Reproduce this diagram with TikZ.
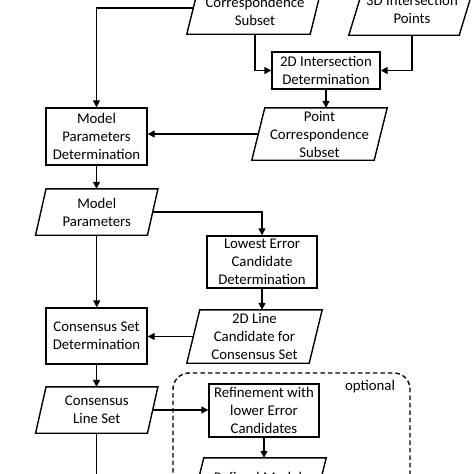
\documentclass[tikz,border=0pt]{standalone}
\usepackage{fontspec}
\setmainfont{Carlito}
\usetikzlibrary{arrows.meta}
\tikzset{
  lw/.style={line width=1.4pt},
  txt/.style={font=\fontsize{14.8}{18}\selectfont, align=center, inner sep=0pt},
  procbox/.style={txt, draw, lw, rectangle},
  databox/.style={txt, rectangle},
  conn/.style={lw, -{Triangle[length=7pt,width=7pt]}},
  plainconn/.style={lw},
}
\newcommand\drawpara[2]{\draw[lw] ([xshift=-#2pt]#1.south west) -- ([xshift=#2pt]#1.north west) -- ([xshift=#2pt]#1.north east) -- ([xshift=-#2pt]#1.south east) -- cycle;}
\begin{document}
\begin{tikzpicture}[x=1pt,y=-1pt]
\useasboundingbox (0,0) rectangle (474,474);
\clip (0,0) rectangle (474,474);
\fill[white] (0,0) rectangle (474,474);

% data (parallelogram) nodes
\node[databox, minimum width=123pt, minimum height=52pt] (lcs) at (255,8) {\mbox{}\\Correspondence\\Subset};
\drawpara{lcs}{6.5}
\node[databox, minimum width=110pt, minimum height=52pt] (pts) at (412,9) {3D Intersection\\Points};
\drawpara{pts}{8}
\node[databox, minimum width=122pt, minimum height=52pt] (pcs) at (319.5,134) {Point\\Correspondence\\Subset};
\drawpara{pcs}{6.5}
\node[databox, minimum width=111.5pt, minimum height=46pt] (mp) at (96.75,212) {Model\\Parameters};
\drawpara{mp}{5.25}
\node[databox, minimum width=122pt, minimum height=53pt] (dlc) at (254.5,336.5) {2D Line\\Candidate for\\Consensus Set};
\drawpara{dlc}{6.5}
\node[databox, minimum width=111.5pt, minimum height=46pt] (cls) at (96.75,410) {Consensus\\Line Set};
\drawpara{cls}{5.25}
\node[databox, minimum width=122pt, minimum height=56pt] (rm) at (258,486) {Refined Model\\\mbox{}};
\drawpara{rm}{7}

% process boxes
\node[procbox, minimum width=108pt, minimum height=37pt] (idet) at (326,70.5) {2D Intersection\\Determination};
\node[procbox, minimum width=101pt, minimum height=57pt] (mpd) at (96.5,136.5) {Model\\Parameters\\Determination};
\node[procbox, minimum width=110pt, minimum height=52pt] (led) at (262,262) {Lowest Error\\Candidate\\Determination};
\node[procbox, minimum width=101pt, minimum height=56pt] (csd) at (96.5,336) {Consensus Set\\Determination};
\node[procbox, minimum width=110pt, minimum height=53pt] (ref) at (264,410.5) {Refinement with\\lower Error\\Candidates};

% optional region
\draw[lw, dashed, dash pattern=on 4.5pt off 3pt, rounded corners=16pt] (173,540) -- (173,373) -- (410,373) -- (410,540);
\node[txt] (opt) at (370,387) {optional};

% connectors
\coordinate (bottomend) at (96.75,500);
\draw[conn] (lcs.west) -| (mpd.north);
\draw[conn] (lcs.south) |- (idet.west);
\draw[conn] (pts.south) |- (idet.east);
\draw[conn] (idet.south) -- (idet.south |- pcs.north);
\draw[conn] (pcs.west) -- (pcs.west -| mpd.east);
\draw[conn] (mpd.south) -- (mpd.south |- mp.north);
\draw[conn] (mp.east) -| (led.north);
\draw[conn] (mp.south) -- (mp.south |- csd.north);
\draw[conn] (led.south) -- (led.south |- dlc.north);
\draw[conn] (dlc.west) -- (dlc.west -| csd.east);
\draw[conn] (csd.south) -- (csd.south |- cls.north);
\draw[conn] (cls.east) -- (cls.east -| ref.west);
\draw[conn] (ref.south) -- (ref.south |- rm.north);
\draw[plainconn] (cls.south) -- (bottomend);
\end{tikzpicture}
\end{document}
